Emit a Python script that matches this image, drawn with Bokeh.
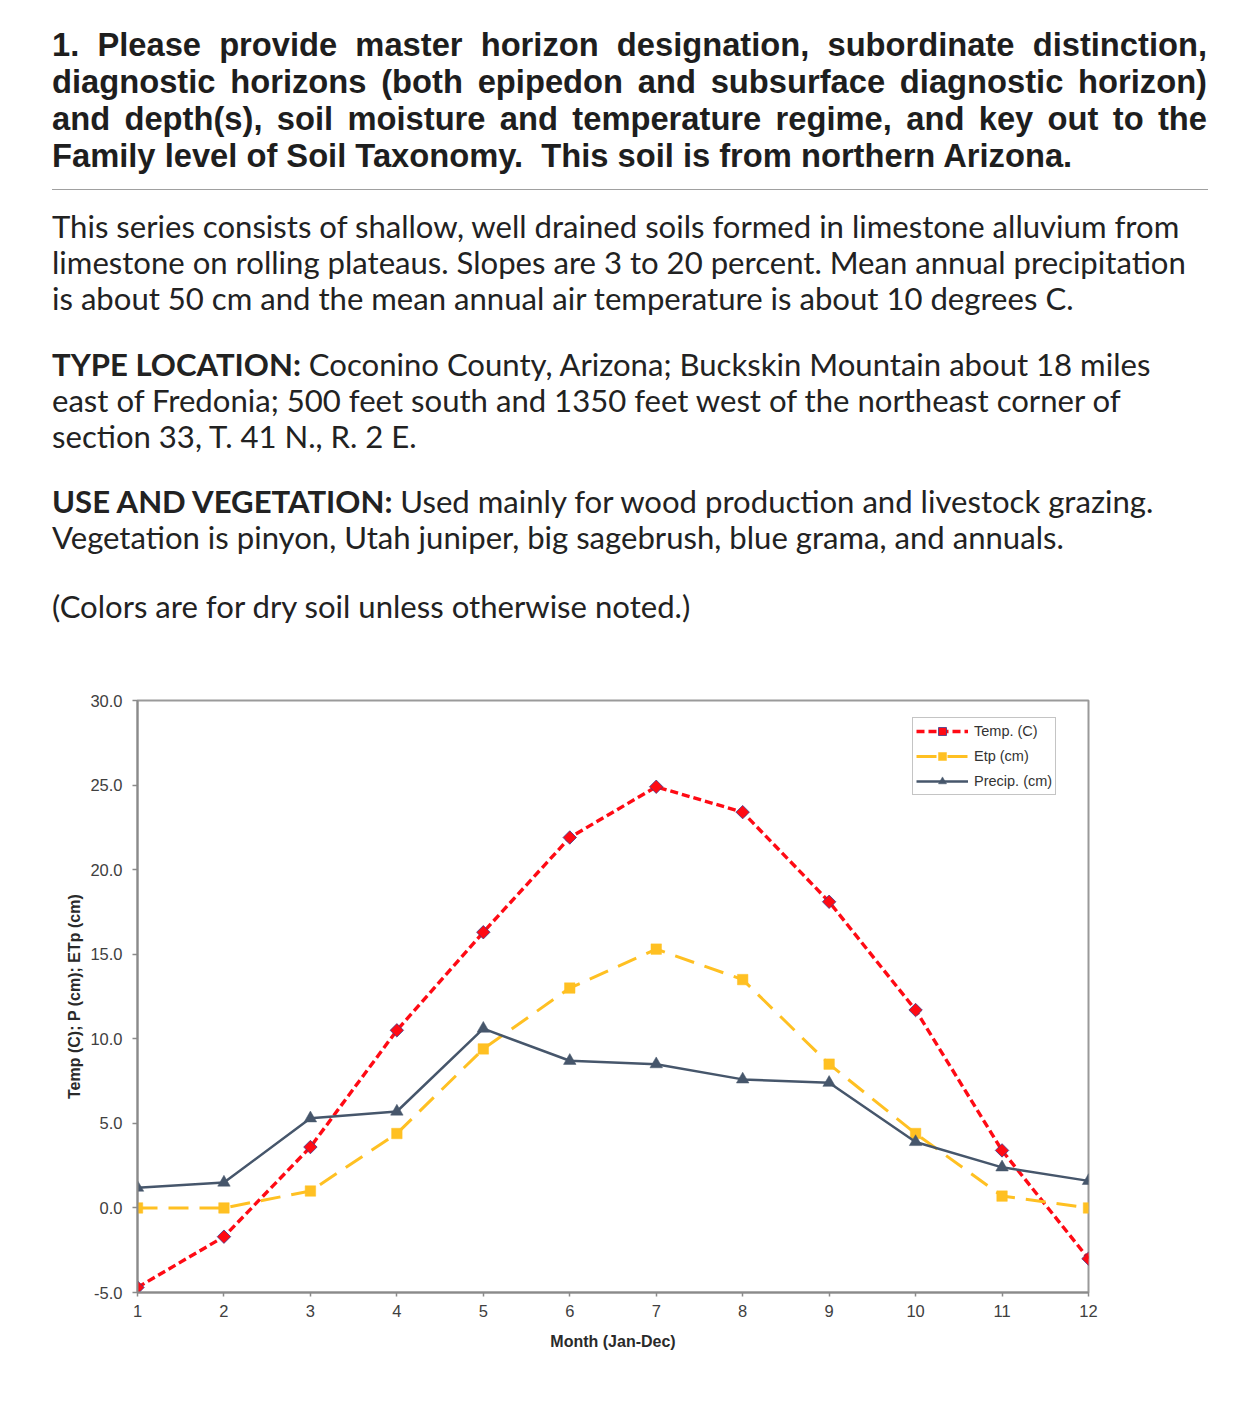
import math
from bokeh.plotting import figure
from bokeh.models import (Div, Range1d, Legend, LegendItem, FixedTicker,
                          NumeralTickFormatter)
from bokeh.layouts import column
from bokeh.embed import file_html
from bokeh.resources import INLINE

# ---------------- data ----------------
months = [1, 2, 3, 4, 5, 6, 7, 8, 9, 10, 11, 12]
temp_c = [-4.7, -1.7, 3.6, 10.5, 16.3, 21.9, 24.9, 23.4, 18.1, 11.7, 3.4, -3.0]
etp_cm = [0.0, 0.0, 1.0, 4.4, 9.4, 13.0, 15.3, 13.5, 8.5, 4.4, 0.7, 0.0]
precip_cm = [1.2, 1.5, 5.3, 5.7, 10.6, 8.7, 8.5, 7.6, 7.4, 3.9, 2.4, 1.6]
y_ticks = [-5, 0, 5, 10, 15, 20, 25, 30]
series_labels = ["Temp. (C)", "Etp (cm)", "Precip. (cm)"]
x_title = "Month (Jan-Dec)"
y_title = "Temp (C); P (cm); ETp (cm)"

title_lines = [
    "1. Please provide master horizon designation, subordinate distinction,",
    "diagnostic horizons (both epipedon and subsurface diagnostic horizon)",
    "and depth(s), soil moisture and temperature regime, and key out to the",
    "Family level of Soil Taxonomy.&nbsp; This soil is from northern Arizona.",
]
para1 = [
    "This series consists of shallow, well drained soils formed in limestone alluvium from",
    "limestone on rolling plateaus. Slopes are 3 to 20 percent. Mean annual precipitation",
    "is about 50 cm and the mean annual air temperature is about 10 degrees C.",
]
para2 = [
    "<b>TYPE LOCATION:</b> Coconino County, Arizona; Buckskin Mountain about 18 miles",
    "east of Fredonia; 500 feet south and 1350 feet west of the northeast corner of",
    "section 33, T. 41 N., R. 2 E.",
]
para3 = [
    "<b>USE AND VEGETATION:</b> Used mainly for wood production and livestock grazing.",
    "Vegetation is pinyon, Utah juniper, big sagebrush, blue grama, and annuals.",
]
para4 = ["(Colors are for dry soil unless otherwise noted.)"]

# ---------------- text block ----------------
LEFT = 47

def line_div(txt, top, style):
    return f'<div style="position:absolute;left:{LEFT}px;top:{top}px;{style}">{txt}</div>'

parts = []
tstyle = ("width:1155px;font-family:'Liberation Sans',Arial,sans-serif;font-weight:bold;"
          "font-size:32.7px;line-height:37px;color:#1e1e1e;white-space:nowrap;")
for i, t in enumerate(title_lines):
    last = i == len(title_lines) - 1
    al = "text-align:left;" if last else "text-align:justify;text-align-last:justify;"
    parts.append(line_div(t, 21 + 37 * i, tstyle + al))
parts.append(f'<div style="position:absolute;left:{LEFT}px;top:184px;width:1156px;height:1px;background:#a0a0a0;"></div>')

bstyle = ("font-family:Lato,sans-serif;font-size:31.1px;line-height:36px;color:#222;"
          "white-space:nowrap;")
def para(lines, first_baseline):
    for i, t in enumerate(lines):
        parts.append(line_div(t, first_baseline - 8 - 27 + 36 * i, bstyle))
para(para1, 238)
para(para2, 376)
para(para3, 513)
para(para4, 618)

html = ('<div style="position:relative;width:1226px;height:640px;background:white;">'
        + "".join(parts) + "</div>")
text_div = Div(text=html, width=1226, height=640)

# ---------------- chart ----------------
p = figure(width=1108, height=722, output_backend="svg", toolbar_location=None,
           x_range=Range1d(1, 12), y_range=Range1d(-5, 30),
           min_border_left=137, min_border_right=20, min_border_top=50,
           min_border_bottom=80)
p.grid.visible = False
p.background_fill_color = "white"
p.border_fill_color = "white"
p.outline_line_color = "#9a9a9a"
p.outline_line_width = 2

RED = "#FF0A14"
YEL = "#FFC022"
SLATE = "#46566B"

l_t = p.line(months, temp_c, line_color=RED, line_width=3.4, line_dash="8 4")
s_t = p.scatter(months, temp_c, marker="square", angle=math.pi / 4, size=9.5,
                fill_color=RED, line_color="#3b3b8c", line_width=0.8)
l_e = p.line(months, etp_cm, line_color=YEL, line_width=3, line_dash="20 11")
s_e = p.scatter(months, etp_cm, marker="square", size=10.5, fill_color=YEL,
                line_color=YEL, line_width=0.5)
l_p = p.line(months, precip_cm, line_color=SLATE, line_width=2.5)
s_p = p.scatter(months, precip_cm, marker="triangle", size=12.5, fill_color=SLATE,
                line_color=SLATE, line_width=0.5)

for ax in (p.xaxis[0], p.yaxis[0]):
    ax.axis_line_color = "#8a8a8a"
    ax.axis_line_width = 2
    ax.major_tick_line_color = "#8a8a8a"
    ax.major_tick_line_width = 1.5
    ax.major_tick_in = 0
    ax.minor_tick_out = 0
    ax.minor_tick_in = 0
    ax.major_label_text_font = "Liberation Sans"
    ax.major_label_text_font_size = "16.5px"
    ax.major_label_text_color = "#404040"
    ax.axis_label_text_font = "Liberation Sans"
    ax.axis_label_text_font_size = "16px"
    ax.axis_label_text_font_style = "bold"
    ax.axis_label_text_color = "#2a2a2a"

p.yaxis[0].ticker = FixedTicker(ticks=y_ticks)
p.yaxis[0].formatter = NumeralTickFormatter(format="0.0")
p.yaxis[0].major_tick_out = 5
p.yaxis[0].major_label_standoff = 10
p.yaxis[0].axis_label = y_title
p.yaxis[0].axis_label_standoff = 4

p.xaxis[0].ticker = FixedTicker(ticks=months)
p.xaxis[0].major_tick_out = 4
p.xaxis[0].major_label_standoff = 8
p.xaxis[0].axis_label = x_title
p.xaxis[0].axis_label_standoff = 13

legend = Legend(items=[
    LegendItem(label=series_labels[0], renderers=[l_t, s_t]),
    LegendItem(label=series_labels[1], renderers=[l_e, s_e]),
    LegendItem(label=series_labels[2], renderers=[l_p, s_p]),
], location=(775, 497))
legend.border_line_color = "#8a8a8a"
legend.border_line_width = 1
legend.background_fill_color = "white"
legend.background_fill_alpha = 1
legend.padding = 3
legend.margin = 0
legend.spacing = 5
legend.glyph_width = 52
legend.glyph_height = 20
legend.label_height = 20
legend.label_standoff = 6
legend.label_text_font = "Liberation Sans"
legend.label_text_font_size = "14.5px"
legend.label_text_color = "#333333"
p.add_layout(legend, "center")

layout = column(text_div, p, spacing=0)
open("out.html", "w").write(file_html(layout, INLINE))
